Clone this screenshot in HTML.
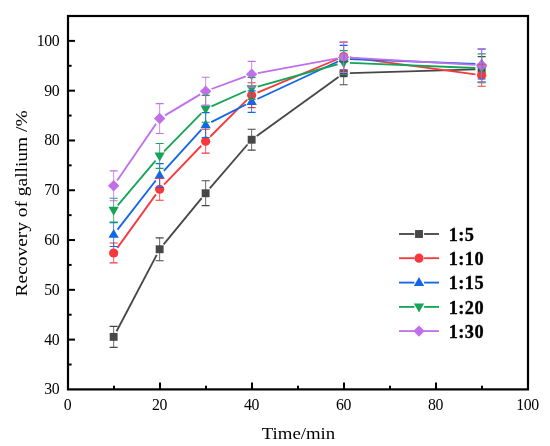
<!DOCTYPE html>
<html lang="en"><head><meta charset="utf-8"><title>Recovery of gallium</title>
<style>html,body{margin:0;padding:0;background:#fff}body{width:550px;height:446px;overflow:hidden}svg{display:block}</style>
</head><body>
<svg width="550" height="446" viewBox="0 0 550 446">
<rect width="550" height="446" fill="#ffffff"/>
<g stroke="#474747" fill="none">
<line x1="116.58" y1="331.30" x2="156.72" y2="254.83" stroke-width="1.85"/>
<line x1="163.65" y1="244.38" x2="201.65" y2="198.11" stroke-width="1.85"/>
<line x1="209.76" y1="188.46" x2="247.54" y2="144.50" stroke-width="1.85"/>
<line x1="256.76" y1="136.03" x2="338.54" y2="76.94" stroke-width="1.85"/>
<line x1="349.95" y1="73.07" x2="475.35" y2="69.45" stroke-width="1.85"/>
</g>
<rect x="109.70" y="332.93" width="7.90" height="7.90" fill="#474747"/>
<rect x="155.70" y="245.30" width="7.90" height="7.90" fill="#474747"/>
<rect x="201.70" y="189.29" width="7.90" height="7.90" fill="#474747"/>
<rect x="247.70" y="135.77" width="7.90" height="7.90" fill="#474747"/>
<rect x="339.70" y="69.30" width="7.90" height="7.90" fill="#474747"/>
<rect x="477.70" y="65.32" width="7.90" height="7.90" fill="#474747"/>
<g stroke="#F6393D" fill="none">
<line x1="117.34" y1="247.88" x2="155.96" y2="194.37" stroke-width="1.85"/>
<line x1="164.01" y1="184.71" x2="201.29" y2="145.76" stroke-width="1.85"/>
<line x1="210.10" y1="136.76" x2="247.20" y2="99.62" stroke-width="1.85"/>
<line x1="257.46" y1="92.72" x2="337.84" y2="59.01" stroke-width="1.85"/>
<line x1="349.89" y1="57.42" x2="475.41" y2="74.40" stroke-width="1.85"/>
</g>
<circle cx="113.65" cy="252.98" r="4.6" fill="#F6393D"/>
<circle cx="159.65" cy="189.26" r="4.6" fill="#F6393D"/>
<circle cx="205.65" cy="141.21" r="4.6" fill="#F6393D"/>
<circle cx="251.65" cy="95.16" r="4.6" fill="#F6393D"/>
<circle cx="343.65" cy="56.58" r="4.6" fill="#F6393D"/>
<circle cx="481.65" cy="75.25" r="4.6" fill="#F6393D"/>
<g stroke="#1266E8" fill="none">
<line x1="117.52" y1="229.60" x2="155.78" y2="180.53" stroke-width="1.85"/>
<line x1="163.89" y1="170.91" x2="201.41" y2="129.69" stroke-width="1.85"/>
<line x1="211.27" y1="122.18" x2="246.03" y2="104.49" stroke-width="1.85"/>
<line x1="257.36" y1="98.97" x2="337.94" y2="61.47" stroke-width="1.85"/>
<line x1="349.95" y1="59.06" x2="475.35" y2="63.81" stroke-width="1.85"/>
</g>
<polygon points="113.65,228.96 118.80,237.86 108.50,237.86" fill="#1266E8"/>
<polygon points="159.65,169.97 164.80,178.87 154.50,178.87" fill="#1266E8"/>
<polygon points="205.65,119.43 210.80,128.33 200.50,128.33" fill="#1266E8"/>
<polygon points="251.65,96.03 256.80,104.93 246.50,104.93" fill="#1266E8"/>
<polygon points="343.65,53.22 348.80,62.12 338.50,62.12" fill="#1266E8"/>
<polygon points="481.65,58.44 486.80,67.34 476.50,67.34" fill="#1266E8"/>
<g stroke="#14A557" fill="none">
<line x1="117.72" y1="205.36" x2="155.58" y2="160.71" stroke-width="1.85"/>
<line x1="164.05" y1="151.40" x2="201.25" y2="113.36" stroke-width="1.85"/>
<line x1="211.41" y1="106.30" x2="245.89" y2="90.99" stroke-width="1.85"/>
<line x1="257.71" y1="86.73" x2="337.59" y2="64.26" stroke-width="1.85"/>
<line x1="349.94" y1="62.81" x2="475.36" y2="68.01" stroke-width="1.85"/>
</g>
<polygon points="113.65,215.77 118.80,206.87 108.50,206.87" fill="#14A557"/>
<polygon points="159.65,161.50 164.80,152.60 154.50,152.60" fill="#14A557"/>
<polygon points="205.65,114.45 210.80,105.55 200.50,105.55" fill="#14A557"/>
<polygon points="251.65,94.04 256.80,85.14 246.50,85.14" fill="#14A557"/>
<polygon points="343.65,68.15 348.80,59.25 338.50,59.25" fill="#14A557"/>
<polygon points="481.65,73.88 486.80,64.98 476.50,64.98" fill="#14A557"/>
<g stroke="#C070EA" fill="none">
<line x1="117.21" y1="180.57" x2="156.09" y2="123.76" stroke-width="1.85"/>
<line x1="165.06" y1="115.34" x2="200.24" y2="94.40" stroke-width="1.85"/>
<line x1="211.56" y1="89.00" x2="245.74" y2="76.43" stroke-width="1.85"/>
<line x1="257.85" y1="73.11" x2="337.45" y2="58.46" stroke-width="1.85"/>
<line x1="349.94" y1="57.69" x2="475.36" y2="64.93" stroke-width="1.85"/>
</g>
<polygon points="113.65,180.07 119.35,185.77 113.65,191.47 107.95,185.77" fill="#C070EA"/>
<polygon points="159.65,112.86 165.35,118.56 159.65,124.26 153.95,118.56" fill="#C070EA"/>
<polygon points="205.65,85.48 211.35,91.18 205.65,96.88 199.95,91.18" fill="#C070EA"/>
<polygon points="251.65,68.55 257.35,74.25 251.65,79.95 245.95,74.25" fill="#C070EA"/>
<polygon points="343.65,51.62 349.35,57.32 343.65,63.02 337.95,57.32" fill="#C070EA"/>
<polygon points="481.65,59.59 487.35,65.29 481.65,70.99 475.95,65.29" fill="#C070EA"/>
<g stroke="#474747" fill="none">
<path d="M113.65 326.42V347.33" stroke-width="0.8"/><path d="M109.65 326.42H117.65M109.65 347.33H117.65" stroke-width="1.15"/>
<path d="M159.65 237.80V260.70" stroke-width="0.8"/><path d="M155.65 237.80H163.65M155.65 260.70H163.65" stroke-width="1.15"/>
<path d="M205.65 180.79V205.69" stroke-width="0.8"/><path d="M201.65 180.79H209.65M201.65 205.69H209.65" stroke-width="1.15"/>
<path d="M251.65 129.26V150.18" stroke-width="0.8"/><path d="M247.65 129.26H255.65M247.65 150.18H255.65" stroke-width="1.15"/>
<path d="M343.65 61.80V84.71" stroke-width="0.8"/><path d="M339.65 61.80H347.65M339.65 84.71H347.65" stroke-width="1.15"/>
<path d="M481.65 56.58V81.97" stroke-width="0.8"/><path d="M477.65 56.58H485.65M477.65 81.97H485.65" stroke-width="1.15"/>
</g>
<g stroke="#F6393D" fill="none">
<path d="M113.65 243.03V262.94" stroke-width="0.8"/><path d="M109.65 243.03H117.65M109.65 262.94H117.65" stroke-width="1.15"/>
<path d="M159.65 178.30V200.21" stroke-width="0.8"/><path d="M155.65 178.30H163.65M155.65 200.21H163.65" stroke-width="1.15"/>
<path d="M205.65 129.26V153.16" stroke-width="0.8"/><path d="M201.65 129.26H209.65M201.65 153.16H209.65" stroke-width="1.15"/>
<path d="M251.65 82.71V107.61" stroke-width="0.8"/><path d="M247.65 82.71H255.65M247.65 107.61H255.65" stroke-width="1.15"/>
<path d="M343.65 42.14V71.01" stroke-width="0.8"/><path d="M339.65 42.14H347.65M339.65 71.01H347.65" stroke-width="1.15"/>
<path d="M481.65 64.29V86.20" stroke-width="0.8"/><path d="M477.65 64.29H485.65M477.65 86.20H485.65" stroke-width="1.15"/>
</g>
<g stroke="#1266E8" fill="none">
<path d="M113.65 222.61V246.51" stroke-width="0.8"/><path d="M109.65 222.61H117.65M109.65 246.51H117.65" stroke-width="1.15"/>
<path d="M159.65 163.62V187.52" stroke-width="0.8"/><path d="M155.65 163.62H163.65M155.65 187.52H163.65" stroke-width="1.15"/>
<path d="M205.65 112.59V137.48" stroke-width="0.8"/><path d="M201.65 112.59H209.65M201.65 137.48H209.65" stroke-width="1.15"/>
<path d="M251.65 90.93V112.34" stroke-width="0.8"/><path d="M247.65 90.93H255.65M247.65 112.34H255.65" stroke-width="1.15"/>
<path d="M343.65 45.37V72.26" stroke-width="0.8"/><path d="M339.65 45.37H347.65M339.65 72.26H347.65" stroke-width="1.15"/>
<path d="M481.65 49.11V78.98" stroke-width="0.8"/><path d="M477.65 49.11H485.65M477.65 78.98H485.65" stroke-width="1.15"/>
</g>
<g stroke="#14A557" fill="none">
<path d="M113.65 198.22V222.12" stroke-width="0.8"/><path d="M109.65 198.22H117.65M109.65 222.12H117.65" stroke-width="1.15"/>
<path d="M159.65 143.45V168.35" stroke-width="0.8"/><path d="M155.65 143.45H163.65M155.65 168.35H163.65" stroke-width="1.15"/>
<path d="M205.65 95.41V122.29" stroke-width="0.8"/><path d="M201.65 95.41H209.65M201.65 122.29H209.65" stroke-width="1.15"/>
<path d="M251.65 77.49V99.39" stroke-width="0.8"/><path d="M247.65 77.49H255.65M247.65 99.39H255.65" stroke-width="1.15"/>
<path d="M343.65 50.60V74.50" stroke-width="0.8"/><path d="M339.65 50.60H347.65M339.65 74.50H347.65" stroke-width="1.15"/>
<path d="M481.65 53.84V82.71" stroke-width="0.8"/><path d="M477.65 53.84H485.65M477.65 82.71H485.65" stroke-width="1.15"/>
</g>
<g stroke="#C070EA" fill="none">
<path d="M113.65 170.84V200.71" stroke-width="0.8"/><path d="M109.65 170.84H117.65M109.65 200.71H117.65" stroke-width="1.15"/>
<path d="M159.65 103.62V133.50" stroke-width="0.8"/><path d="M155.65 103.62H163.65M155.65 133.50H163.65" stroke-width="1.15"/>
<path d="M205.65 77.24V105.12" stroke-width="0.8"/><path d="M201.65 77.24H209.65M201.65 105.12H209.65" stroke-width="1.15"/>
<path d="M251.65 61.31V87.19" stroke-width="0.8"/><path d="M247.65 61.31H255.65M247.65 87.19H255.65" stroke-width="1.15"/>
<path d="M343.65 42.14V72.51" stroke-width="0.8"/><path d="M339.65 42.14H347.65M339.65 72.51H347.65" stroke-width="1.15"/>
<path d="M481.65 48.86V81.72" stroke-width="0.8"/><path d="M477.65 48.86H485.65M477.65 81.72H485.65" stroke-width="1.15"/>
</g>
<rect x="68.0" y="16.0" width="460.0" height="373.40" fill="none" stroke="#000" stroke-width="2.2"/>
<g stroke="#000" stroke-width="2" fill="none">
<line x1="114.00" y1="389.40" x2="114.00" y2="385.80"/>
<line x1="160.00" y1="389.40" x2="160.00" y2="382.40"/>
<line x1="206.00" y1="389.40" x2="206.00" y2="385.80"/>
<line x1="252.00" y1="389.40" x2="252.00" y2="382.40"/>
<line x1="298.00" y1="389.40" x2="298.00" y2="385.80"/>
<line x1="344.00" y1="389.40" x2="344.00" y2="382.40"/>
<line x1="390.00" y1="389.40" x2="390.00" y2="385.80"/>
<line x1="436.00" y1="389.40" x2="436.00" y2="382.40"/>
<line x1="482.00" y1="389.40" x2="482.00" y2="385.80"/>
<line x1="68.0" y1="364.51" x2="71.6" y2="364.51"/>
<line x1="68.0" y1="339.61" x2="75.0" y2="339.61"/>
<line x1="68.0" y1="314.72" x2="71.6" y2="314.72"/>
<line x1="68.0" y1="289.83" x2="75.0" y2="289.83"/>
<line x1="68.0" y1="264.93" x2="71.6" y2="264.93"/>
<line x1="68.0" y1="240.04" x2="75.0" y2="240.04"/>
<line x1="68.0" y1="215.15" x2="71.6" y2="215.15"/>
<line x1="68.0" y1="190.25" x2="75.0" y2="190.25"/>
<line x1="68.0" y1="165.36" x2="71.6" y2="165.36"/>
<line x1="68.0" y1="140.47" x2="75.0" y2="140.47"/>
<line x1="68.0" y1="115.57" x2="71.6" y2="115.57"/>
<line x1="68.0" y1="90.68" x2="75.0" y2="90.68"/>
<line x1="68.0" y1="65.79" x2="71.6" y2="65.79"/>
<line x1="68.0" y1="40.89" x2="75.0" y2="40.89"/>
</g>
<g font-family="'Liberation Serif', 'Times New Roman', serif" font-size="15.8" letter-spacing="-0.4" fill="#000">
<text x="67.60" y="409.7" text-anchor="middle">0</text>
<text x="159.60" y="409.7" text-anchor="middle">20</text>
<text x="251.60" y="409.7" text-anchor="middle">40</text>
<text x="343.60" y="409.7" text-anchor="middle">60</text>
<text x="435.60" y="409.7" text-anchor="middle">80</text>
<text x="527.60" y="409.7" text-anchor="middle">100</text>
<text x="59.2" y="394.30" text-anchor="end">30</text>
<text x="59.2" y="344.51" text-anchor="end">40</text>
<text x="59.2" y="294.73" text-anchor="end">50</text>
<text x="59.2" y="244.94" text-anchor="end">60</text>
<text x="59.2" y="195.15" text-anchor="end">70</text>
<text x="59.2" y="145.37" text-anchor="end">80</text>
<text x="59.2" y="95.58" text-anchor="end">90</text>
<text x="59.2" y="45.79" text-anchor="end">100</text>
</g>
<text x="298.5" y="438.6" text-anchor="middle" font-family="'Liberation Serif', serif" font-size="17" textLength="73.5" lengthAdjust="spacingAndGlyphs" fill="#000">Time/min</text>
<text transform="translate(26.8 203.4) rotate(-90)" text-anchor="middle" font-family="'Liberation Serif', serif" font-size="17.5" textLength="186" lengthAdjust="spacingAndGlyphs" fill="#000">Recovery of gallium /%</text>
<g stroke="#474747" stroke-width="1.85"><line x1="399" y1="234.0" x2="414.4" y2="234.0"/><line x1="424.1" y1="234.0" x2="439" y2="234.0"/></g>
<rect x="415.05" y="230.05" width="7.90" height="7.90" fill="#474747"/>
<text x="448.7" y="240.70" font-family="'Liberation Serif', serif" font-weight="bold" font-size="18.3" letter-spacing="0.45" stroke="#000" stroke-width="0.35" fill="#000">1:5</text>
<g stroke="#F6393D" stroke-width="1.85"><line x1="399" y1="258.2" x2="414.4" y2="258.2"/><line x1="424.1" y1="258.2" x2="439" y2="258.2"/></g>
<circle cx="419.00" cy="258.20" r="4.6" fill="#F6393D"/>
<text x="448.7" y="264.90" font-family="'Liberation Serif', serif" font-weight="bold" font-size="18.3" letter-spacing="0.45" stroke="#000" stroke-width="0.35" fill="#000">1:10</text>
<g stroke="#1266E8" stroke-width="1.85"><line x1="399" y1="282.6" x2="414.4" y2="282.6"/><line x1="424.1" y1="282.6" x2="439" y2="282.6"/></g>
<polygon points="419.00,277.00 424.15,285.90 413.85,285.90" fill="#1266E8"/>
<text x="448.7" y="289.30" font-family="'Liberation Serif', serif" font-weight="bold" font-size="18.3" letter-spacing="0.45" stroke="#000" stroke-width="0.35" fill="#000">1:15</text>
<g stroke="#14A557" stroke-width="1.85"><line x1="399" y1="306.9" x2="414.4" y2="306.9"/><line x1="424.1" y1="306.9" x2="439" y2="306.9"/></g>
<polygon points="419.00,312.50 424.15,303.60 413.85,303.60" fill="#14A557"/>
<text x="448.7" y="313.60" font-family="'Liberation Serif', serif" font-weight="bold" font-size="18.3" letter-spacing="0.45" stroke="#000" stroke-width="0.35" fill="#000">1:20</text>
<g stroke="#C070EA" stroke-width="1.85"><line x1="399" y1="331.1" x2="414.4" y2="331.1"/><line x1="424.1" y1="331.1" x2="439" y2="331.1"/></g>
<polygon points="419.00,325.40 424.70,331.10 419.00,336.80 413.30,331.10" fill="#C070EA"/>
<text x="448.7" y="337.80" font-family="'Liberation Serif', serif" font-weight="bold" font-size="18.3" letter-spacing="0.45" stroke="#000" stroke-width="0.35" fill="#000">1:30</text>
</svg>
</body></html>
